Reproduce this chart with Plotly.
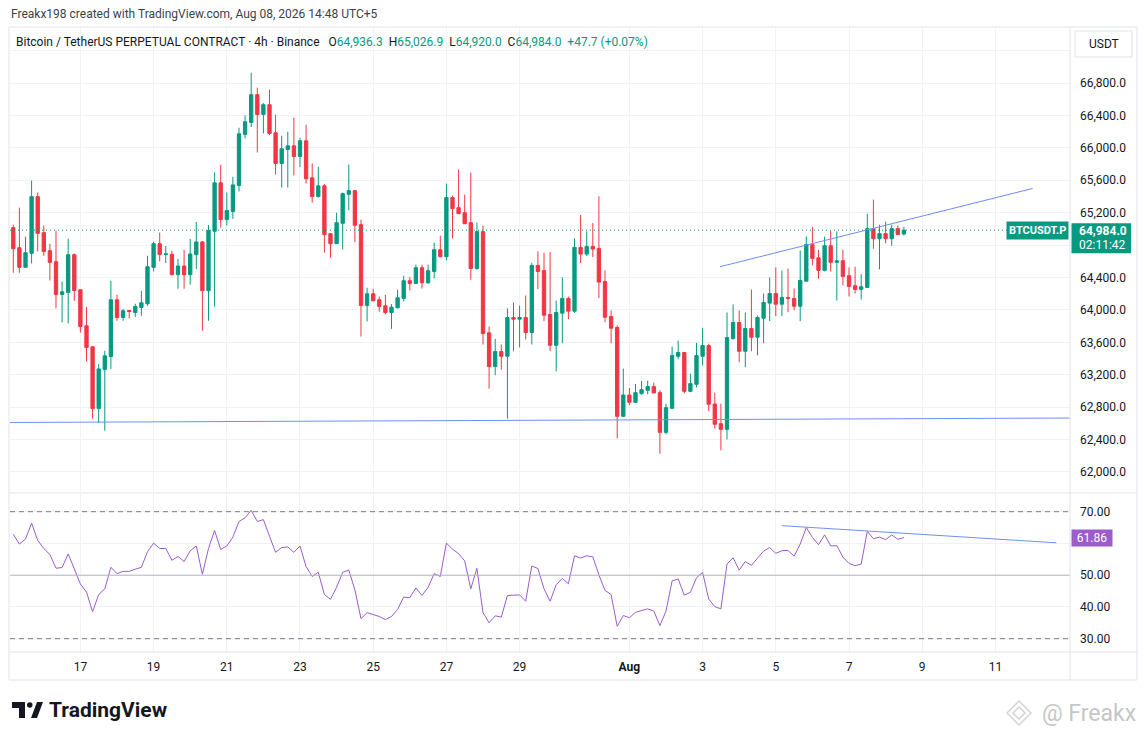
import pandas as pd
import plotly.graph_objects as go
from plotly.subplots import make_subplots

GREEN = '#089981'
RED = '#f23645'
BLUE = '#6f8ff6'
PURPLE = '#9c5ccb'
GRID = '#f0f2f5'
BORDER = '#e0e3eb'
TEXT = '#131722'
FONT = 'Roboto'

# 4h candles, BTCUSDT.P (Binance)
opens = [65015, 64768, 64525, 64698, 65398, 64953, 64731, 64595, 64191, 64216,
         64681, 64249, 63804, 63544, 62782, 63264, 63425, 64125, 63907, 63993,
         63968, 64031, 64076, 64525, 64817, 64685, 64686, 64435, 64542, 64435,
         64682, 64839, 64237, 64971, 65568, 65115, 65214, 65535, 66166, 66314,
         66656, 66413, 66532, 66186, 65807, 65980, 66025, 65894, 66087, 65630,
         65399, 65531, 64941, 64817, 65069, 65427, 65472, 65052, 64055, 64199,
         64125, 64051, 63968, 64026, 64142, 64360, 64327, 64521, 64335, 64475,
         64743, 64657, 65386, 65262, 65200, 65077, 64512, 64966, 63717, 63301,
         63486, 63428, 63906, 63886, 63906, 63721, 64549, 64487, 63943, 63564,
         63960, 64141, 63985, 64772, 64689, 64784, 64759, 64351, 63919, 63783,
         62687, 62950, 62860, 62967, 63008, 63054, 62979, 62489, 62786, 63428,
         63474, 62996, 63082, 63428, 63560, 62839, 62596, 62526, 63647, 63845,
         63490, 63770, 63663, 63898, 64084, 64203, 64071, 64154, 64141, 64046,
         64355, 64805, 64644, 64488, 64792, 64587, 64607, 64422, 64298, 64253,
         64278, 65003, 64879, 64941, 64879, 65003, 64936.3]
highs = [65052, 65262, 64904, 65596, 65448, 65040, 64817, 64978, 64348, 64879,
         64698, 64249, 64039, 63556, 63334, 63495, 64360, 64187, 64014, 63997,
         64076, 64236, 64669, 64842, 64953, 64789, 64728, 64629, 64740, 64876,
         65086, 64851, 65045, 65696, 65791, 65449, 65642, 66248, 66400, 66928,
         66743, 66553, 66718, 66409, 66149, 66198, 66372, 66124, 66285, 65807,
         65766, 65556, 64941, 65200, 65448, 65794, 65472, 65114, 64273, 64261,
         64166, 64187, 64071, 64249, 64422, 64410, 64558, 64558, 64558, 64830,
         64916, 65559, 65411, 65732, 65423, 65695, 65077, 65040, 63795, 63643,
         63573, 64018, 64092, 64055, 64178, 64582, 64722, 64706, 64714, 64116,
         64401, 64166, 64883, 65171, 64969, 65072, 65402, 64487, 63993, 63808,
         63276, 63037, 63086, 63123, 63127, 63103, 63008, 62843, 63548, 63622,
         63474, 63214, 63593, 63779, 63585, 62979, 62843, 63968, 64067, 63993,
         63968, 64252, 63931, 64203, 64401, 64524, 64487, 64512, 64265, 64734,
         64907, 65027, 64739, 64904, 64974, 64970, 64743, 64525, 64533, 64442,
         65188, 65361, 65052, 65089, 65052, 65040, 65026.9]
lows = [64459, 64459, 64525, 64574, 64722, 64669, 64364, 64018, 63845, 63833,
        64113, 63721, 63363, 62658, 62605, 62510, 63272, 63866, 63866, 63895,
        63915, 63927, 64051, 64475, 64599, 64579, 64427, 64262, 64262, 64312,
        64504, 63743, 63867, 64040, 65016, 65041, 65123, 65461, 66116, 66256,
        65943, 66178, 66157, 65671, 65510, 65510, 65659, 65762, 65560, 65325,
        65387, 64707, 64644, 64817, 64747, 65229, 64834, 63672, 63857, 64104,
        63977, 63944, 63767, 64018, 64104, 64241, 64327, 64265, 64323, 64389,
        64648, 64611, 64883, 65188, 65064, 64372, 64496, 63573, 63029, 63194,
        63264, 62658, 63490, 63536, 63634, 63573, 64257, 63861, 63490, 63243,
        63589, 63886, 63964, 64578, 64664, 64652, 64145, 63849, 63589, 62415,
        62687, 62823, 62860, 62955, 62959, 62975, 62225, 62464, 62782, 63391,
        62971, 62984, 63045, 63317, 62749, 62534, 62267, 62403, 63634, 63355,
        63292, 63490, 63441, 63589, 63861, 63923, 63923, 63972, 63997, 63861,
        64355, 64549, 64385, 64475, 64475, 64117, 64302, 64166, 64203, 64129,
        64278, 64755, 64500, 64821, 64792, 64929, 64920.0]
closes = [64755, 64525, 64706, 65398, 64945, 64722, 64587, 64191, 64224, 64681,
          64240, 63795, 63536, 62782, 63272, 63433, 64125, 63907, 63989, 63981,
          64043, 64088, 64533, 64817, 64685, 64691, 64435, 64542, 64435, 64691,
          64839, 64237, 64979, 65568, 65115, 65226, 65543, 66174, 66322, 66656,
          66413, 66532, 66178, 65807, 65988, 66025, 65894, 66087, 65618, 65399,
          65531, 64930, 64817, 65077, 65435, 65472, 65044, 64055, 64199, 64113,
          64043, 63968, 64034, 64150, 64360, 64327, 64521, 64335, 64484, 64743,
          64657, 65386, 65250, 65188, 65064, 64512, 64966, 63709, 63301, 63486,
          63428, 63906, 63886, 63906, 63721, 64549, 64475, 63935, 63564, 63968,
          64141, 63985, 64772, 64689, 64784, 64751, 64343, 63910, 63775, 62687,
          62950, 62860, 62979, 63016, 63054, 62975, 62489, 62794, 63437, 63474,
          62996, 63091, 63437, 63560, 62836, 62588, 62526, 63659, 63845, 63490,
          63770, 63663, 63906, 64092, 64203, 64071, 64154, 64145, 64046, 64364,
          64809, 64636, 64488, 64792, 64587, 64607, 64413, 64290, 64253, 64286,
          65003, 64879, 64941, 64879, 65003, 64929, 64984.0]

# RSI(14) pane
rsi = [62.9, 59.8, 61.4, 66.4, 61.0, 58.4, 56.5, 52.2, 52.4, 56.7,
       52.0, 47.2, 44.7, 38.5, 43.9, 45.7, 52.5, 50.5, 51.2, 51.2,
       51.9, 52.5, 57.4, 60.1, 58.4, 58.4, 54.7, 55.9, 54.3, 57.7,
       59.2, 50.3, 58.4, 64.1, 58.1, 59.2, 62.0, 66.9, 68.1, 70.4,
       66.9, 67.5, 62.3, 57.2, 58.7, 58.9, 57.2, 59.2, 52.7, 49.6,
       50.9, 43.9, 42.4, 46.2, 50.9, 51.6, 45.4, 36.3, 38.2, 37.7,
       37.0, 36.0, 37.0, 39.2, 43.1, 42.9, 46.0, 43.6, 46.2, 50.5,
       49.6, 60.1, 58.2, 56.8, 54.5, 45.7, 52.2, 38.2, 35.0, 37.2,
       36.8, 43.6, 43.6, 43.8, 41.8, 52.9, 52.1, 45.7, 41.8, 47.0,
       49.0, 47.3, 56.1, 55.4, 56.1, 55.8, 50.1, 45.2, 43.9, 33.9,
       37.3, 36.6, 38.3, 38.9, 39.4, 38.7, 34.1, 38.7, 48.2, 48.8,
       43.7, 44.6, 49.2, 50.9, 42.5, 40.1, 39.4, 53.5, 55.5, 51.6,
       54.3, 53.1, 55.3, 57.6, 58.7, 56.9, 57.7, 57.8, 56.0, 59.8,
       65.0, 61.9, 59.6, 62.7, 59.2, 59.3, 55.7, 53.7, 53.0, 53.5,
       63.8, 61.5, 62.0, 61.2, 62.7, 61.3, 61.86]

# drawn trend lines (bar index, value)
rising_idx = [115.85, 167.1]
rising_val = [64533, 65499]
support_idx = [-0.54, 173.23]
support_val = [62611, 62666]
rsi_line_idx = [126, 171]
rsi_line_val = [65.6, 60.2]

tick_days = ['2026-07-17', '2026-07-19', '2026-07-21', '2026-07-23', '2026-07-25',
             '2026-07-27', '2026-07-29', '2026-08-01', '2026-08-03', '2026-08-05',
             '2026-08-07', '2026-08-09', '2026-08-11']
tick_text = ['17', '19', '21', '23', '25', '27', '29', '<b>Aug</b>', '3', '5', '7', '9', '11']
price_ticks = [62000, 62400, 62800, 63200, 63600, 64000, 64400, 64800, 65200,
               65600, 66000, 66400, 66800, 67200]
rsi_ticks = [30, 40, 50, 60, 70]

t0 = pd.Timestamp('2026-07-15 05:00')
times = pd.date_range(t0, periods=len(closes), freq='4h')


def at(idx):
    return t0 + pd.Timedelta(hours=4 * idx)


# pixel helpers for the decoration around the plot
PL, PR, PT, PB = 10, 1070, 28, 652
Y_RANGE = [61753, 67479]


def px(x):
    return (x - PL) / (PR - PL)


def py(y):
    return (PB - y) / (PB - PT)


fig = make_subplots(rows=2, cols=1, shared_xaxes=True, vertical_spacing=0.01)

fig.add_trace(go.Candlestick(
    x=times, open=opens, high=highs, low=lows, close=closes,
    increasing=dict(line=dict(color=GREEN, width=1), fillcolor=GREEN),
    decreasing=dict(line=dict(color=RED, width=1), fillcolor=RED),
    whiskerwidth=0, hoverinfo='skip', showlegend=False
), row=1, col=1)

fig.add_trace(go.Scatter(x=[at(i) for i in rising_idx], y=rising_val, mode='lines',
                         line=dict(color=BLUE, width=1), hoverinfo='skip', showlegend=False),
              row=1, col=1)
fig.add_trace(go.Scatter(x=[at(i) for i in support_idx], y=support_val, mode='lines',
                         line=dict(color=BLUE, width=1), hoverinfo='skip', showlegend=False),
              row=1, col=1)

fig.add_trace(go.Scatter(x=times, y=rsi, mode='lines', line=dict(color=PURPLE, width=1),
                         hoverinfo='skip', showlegend=False), row=2, col=1)
fig.add_trace(go.Scatter(x=[at(i) for i in rsi_line_idx], y=rsi_line_val, mode='lines',
                         line=dict(color=BLUE, width=1), hoverinfo='skip', showlegend=False),
              row=2, col=1)

last = closes[-1]
# pixel row of the last price, for the axis badge
last_y = PT + (Y_RANGE[1] - last) / (Y_RANGE[1] - Y_RANGE[0]) * (492 - PT)

# last price dotted line
fig.add_shape(type='line', xref='x domain', yref='y', x0=0, x1=1, y0=last, y1=last,
              line=dict(color=GREEN, width=1, dash='1px,3px'))
# RSI bands
for lvl, dash, col in [(70, '5px,4px', '#787b86'), (30, '5px,4px', '#787b86'), (50, 'solid', '#b2b5be')]:
    fig.add_shape(type='line', xref='x2 domain', yref='y2', x0=0, x1=1, y0=lvl, y1=lvl,
                  line=dict(color=col, width=1, dash=dash))

# frame, pane separator, axis separator
fig.add_shape(type='rect', xref='paper', yref='paper', x0=px(9), x1=px(1137), y0=py(680), y1=py(27),
              line=dict(color=BORDER, width=1), layer='below')
fig.add_shape(type='line', xref='paper', yref='paper', x0=px(9), x1=px(1137), y0=py(493), y1=py(493),
              line=dict(color=BORDER, width=1))
fig.add_shape(type='line', xref='paper', yref='paper', x0=px(1070), x1=px(1070), y0=py(680), y1=py(27),
              line=dict(color=BORDER, width=1))
fig.add_shape(type='line', xref='paper', yref='paper', x0=px(9), x1=px(1137), y0=py(652), y1=py(652),
              line=dict(color=BORDER, width=1))

# USDT button
fig.add_shape(type='rect', xref='paper', yref='paper', x0=px(1075), x1=px(1132), y0=py(57), y1=py(31),
              line=dict(color=BORDER, width=1), fillcolor='white')

# last price badge background
fig.add_shape(type='rect', xref='paper', yref='paper', x0=px(1071.5), x1=px(1131),
              y0=py(last_y + 23), y1=py(last_y - 7), fillcolor=GREEN, line=dict(width=0))

# TradingView logo mark
fig.add_shape(type='path', xref='paper', yref='paper', fillcolor=TEXT, line=dict(width=0),
              path=f'M {px(12)},{py(702)} L {px(25)},{py(702)} L {px(25)},{py(718)} '
                   f'L {px(19)},{py(718)} L {px(19)},{py(708)} L {px(12)},{py(708)} Z')
fig.add_shape(type='circle', xref='paper', yref='paper', fillcolor=TEXT, line=dict(width=0),
              x0=px(27), x1=px(32.5), y0=py(707.8), y1=py(702.3))
fig.add_shape(type='path', xref='paper', yref='paper', fillcolor=TEXT, line=dict(width=0),
              path=f'M {px(31)},{py(718)} L {px(37)},{py(702)} L {px(43)},{py(702)} '
                   f'L {px(37)},{py(718)} Z')
# watermark mark (nested diamonds)
for r in (12, 6):
    fig.add_shape(type='path', xref='paper', yref='paper', line=dict(color='#d4d4d4', width=1.5),
                  path=f'M {px(1019)},{py(713 - r)} L {px(1019 + r)},{py(713)} '
                       f'L {px(1019)},{py(713 + r)} L {px(1019 - r)},{py(713)} Z')

green_vals = lambda s: f'<span style="color:{GREEN}">{s}</span>'
legend = ('Bitcoin / TetherUS PERPETUAL CONTRACT · 4h · Binance   '
          f'O{green_vals("64,936.3")}  H{green_vals("65,026.9")}  '
          f'L{green_vals("64,920.0")}  C{green_vals("64,984.0")}  {green_vals("+47.7 (+0.07%)")}')

annotations = [
    dict(x=px(9), y=py(14), text='Freakx198 created with TradingView.com, Aug 08, 2026 14:48 UTC+5',
         xanchor='left', font=dict(size=12, color='#3b3f4a')),
    dict(x=px(14), y=py(42), text=legend, xanchor='left', font=dict(size=12, color=TEXT)),
    dict(x=px(1103.5), y=py(44), text='USDT', xanchor='center', font=dict(size=12, color=TEXT)),
    dict(x=px(47), y=py(710), text='<b>TradingView</b>', xanchor='left', font=dict(size=21, color=TEXT)),
    dict(x=px(1138), y=py(713), text='@ Freakx', xanchor='right', font=dict(size=23, color='#c6c6c6')),
    # symbol label on the last price line
    dict(x=1, xref='paper', y=last, yref='y', text='<b>BTCUSDT.P</b>', xanchor='right', xshift=-1,
         bgcolor=GREEN, font=dict(size=11, color='white'), borderpad=2),
    # price badge texts
    dict(x=px(1077), y=py(last_y + 1), text='<b>64,984.0</b>', xanchor='left',
         font=dict(size=12, color='white')),
    dict(x=px(1077), y=py(last_y + 15), text='02:11:42', xanchor='left',
         font=dict(size=12, color='white')),
    # RSI value badge
    dict(x=px(1071), xref='paper', y=rsi[-1], yref='y2', xanchor='left',
         text=f'{rsi[-1]:.2f}', bgcolor=PURPLE, font=dict(size=12, color='white'),
         width=38, borderpad=1),
]
for a in annotations:
    a.setdefault('xref', 'paper')
    a.setdefault('yref', 'paper')
    a.setdefault('yanchor', 'middle')
    a.setdefault('showarrow', False)

x_range = [at(support_idx[0]), at(support_idx[1])]
tick_vals = [pd.Timestamp(d) + pd.Timedelta(hours=1) for d in tick_days]

fig.update_layout(
    width=1146, height=740,
    margin=dict(l=PL, r=1146 - PR, t=PT, b=740 - PB),
    paper_bgcolor='white', plot_bgcolor='white',
    font=dict(family=FONT, size=12, color=TEXT),
    showlegend=False, boxgap=0.22,
    annotations=annotations,
)
fig.update_xaxes(range=x_range, tickvals=tick_vals, ticktext=tick_text, showgrid=True,
                 gridcolor=GRID, gridwidth=1, zeroline=False, showline=False,
                 rangeslider_visible=False, ticks='')
fig.update_xaxes(showticklabels=False, row=1, col=1)
fig.update_xaxes(showticklabels=True, tickfont=dict(size=12, color=TEXT), ticklabelstandoff=6,
                 row=2, col=1)

fig.update_yaxes(domain=[(PB - 492) / (PB - PT), 1], range=Y_RANGE, side='right',
                 tickvals=price_ticks,
                 ticktext=[f'{v:,.1f}' if v < 67000 else '' for v in price_ticks],
                 showgrid=True, gridcolor=GRID, zeroline=False, showline=False, ticks='',
                 ticklabelstandoff=9, tickfont=dict(size=12, color=TEXT), row=1, col=1)
fig.update_yaxes(domain=[0, (PB - 494) / (PB - PT)], range=[25.81, 75.57], side='right',
                 tickvals=rsi_ticks,
                 ticktext=[f'{v:.2f}' if v != 60 else '' for v in rsi_ticks],
                 showgrid=True, gridcolor=GRID, zeroline=False, showline=False, ticks='',
                 ticklabelstandoff=9, tickfont=dict(size=12, color=TEXT), row=2, col=1)

fig.write_html('out.html', config={'displayModeBar': False},
               post_script="document.body.style.margin='0';")
